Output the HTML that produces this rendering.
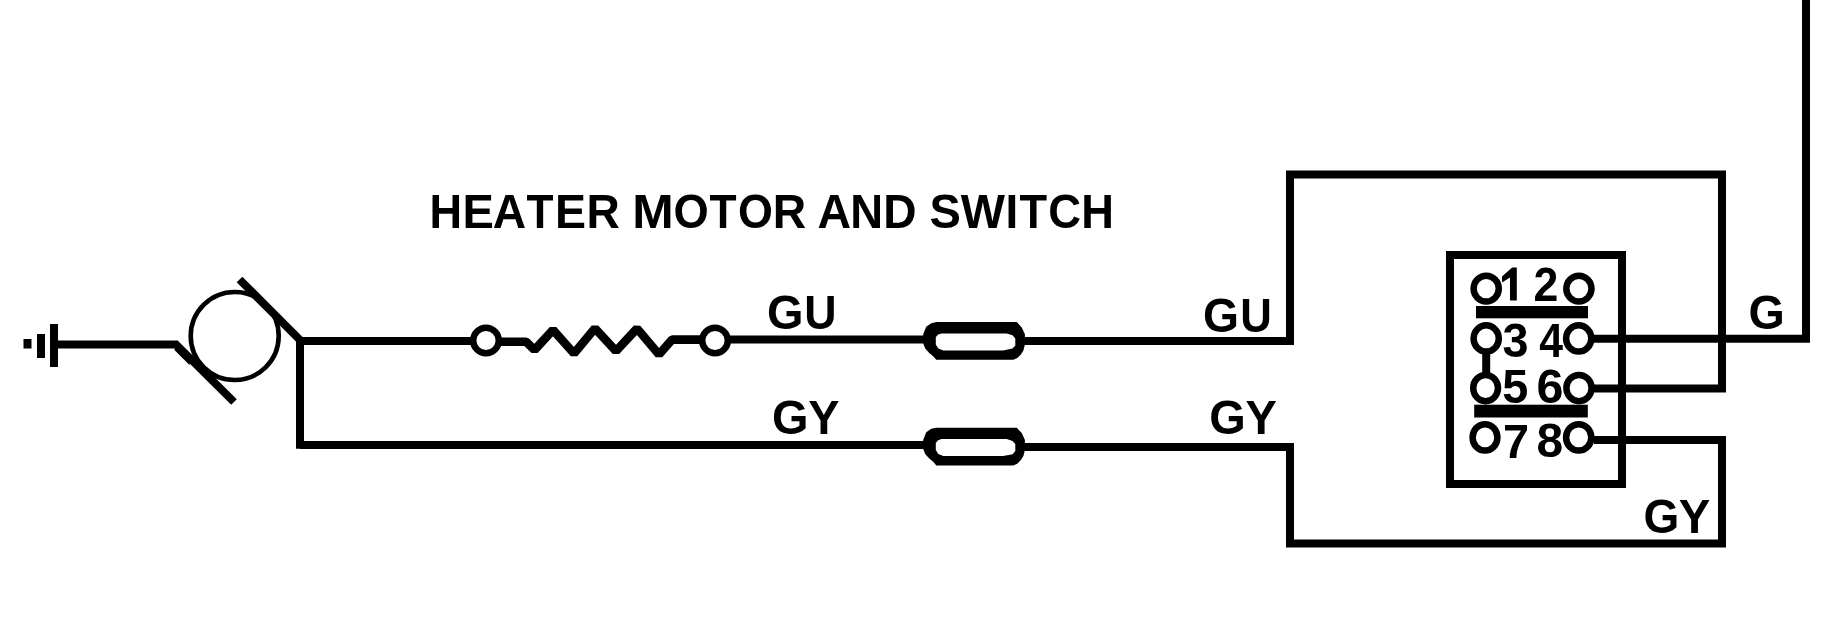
<!DOCTYPE html>
<html>
<head>
<meta charset="utf-8">
<style>
html,body{margin:0;padding:0;background:#fff;}
body{width:1830px;height:642px;overflow:hidden;}
svg{display:block;will-change:transform;}
text{font-family:"Liberation Sans",sans-serif;font-weight:bold;fill:#000;}
</style>
</head>
<body>
<svg width="1830" height="642" viewBox="0 0 1830 642">
<rect x="0" y="0" width="1830" height="642" fill="#fff"/>
<g fill="#000" stroke="none">
  <!-- ground symbol -->
  <rect x="23.5" y="339" width="8" height="9.5"/>
  <rect x="37" y="334" width="8" height="24"/>
  <rect x="50" y="324" width="8" height="43"/>
</g>
<g fill="none" stroke="#000" stroke-width="8" stroke-linecap="butt" stroke-linejoin="miter">
  <!-- ground wire to motor -->
  <polyline points="56,344.5 176,344.5 234,402"/>
  <line x1="177" y1="347" x2="192" y2="362"/>
  <!-- motor circle -->
  <circle cx="234.7" cy="336" r="44" stroke-width="4.6"/>
  <!-- top diagonal -->
  <line x1="239.5" y1="279.5" x2="302" y2="342"/>
  <!-- GU wire from motor to resistor -->
  <polyline points="300,448.7 300,341 472,341"/>
  <!-- resistor -->
  <polyline stroke-width="8.6" stroke-linejoin="bevel" points="499,341.7 526,341.7 534.5,350 553,329.8 574,353.5 595,328.3 616,351.2 637,328.5 659,354.5 672,339.6 700,339.6"/>
  <!-- GU wire to fuse -->
  <line x1="730" y1="339.5" x2="925" y2="339.5"/>
  <!-- GU wire from fuse to switch -->
  <polyline points="1024,341 1290,341 1290,174.5 1722,174.5 1722,388.5 1594,388.5"/>
  <!-- G wire -->
  <polyline points="1594,338.8 1806,338.8 1806,-5"/>
  <!-- GY wire -->
  <polyline points="300,445 925,445"/>
  <polyline points="1024,447 1290,447 1290,543.5 1722,543.5 1722,440 1594,440"/>
  <!-- switch box -->
  <rect x="1450" y="255" width="172" height="229"/>
  <!-- link 3-5 -->
  <line x1="1486.2" y1="354" x2="1486.2" y2="373"/>
</g>
<g fill="none" stroke="#000" stroke-width="6.5">
  <!-- terminal circles -->
  <circle cx="486" cy="340.5" r="12.8"/>
  <circle cx="715" cy="340.5" r="12.8"/>
  <ellipse cx="1486.2" cy="288.6" rx="12.6" ry="12.9"/>
  <ellipse cx="1578.9" cy="288.6" rx="12.6" ry="12.9"/>
  <ellipse cx="1486.2" cy="338.4" rx="12.6" ry="13.1"/>
  <ellipse cx="1578.7" cy="338.4" rx="12.6" ry="13.1"/>
  <ellipse cx="1485.6" cy="388.1" rx="12.4" ry="13.1"/>
  <ellipse cx="1579" cy="388.1" rx="12.6" ry="13.1"/>
  <ellipse cx="1485" cy="437.4" rx="12.4" ry="13.2"/>
  <ellipse cx="1578.7" cy="437.4" rx="12.6" ry="13.2"/>
</g>
<g fill="#000" fill-rule="evenodd">
  <!-- fuses -->
  <path d="M936.3,322.1 L1016.8,322.1 L1021.9,327.7 L1024.9,334.3 L1024.9,344.4 L1023.4,350.5 L1020.9,354.5 L1017.3,358.1 L1013.3,359.8 L936.3,359.8 L933.5,356.5 L929.2,353.0 L925.2,348.5 L923.2,343.4 L923.2,334.3 L926.2,326.7 L931.3,323.2 Z M941.4,333.5 L1006.7,333.5 L1012.5,335.3 L1015.3,338.5 L1015.3,345.5 L1012.5,348.6 L1003.1,350.5 L943.4,350.5 L938.3,348.5 L935.8,344.4 L935.8,337.3 L937.8,334.8 Z"/>
  <path d="M936.3,427.7 L1016.8,427.7 L1021.9,433.3 L1024.9,439.9 L1024.9,450.0 L1023.4,456.1 L1020.9,460.1 L1017.3,463.7 L1013.3,465.4 L936.3,465.4 L933.5,462.1 L929.2,458.6 L925.2,454.1 L923.2,449.0 L923.2,439.9 L926.2,432.3 L931.3,428.8 Z M941.4,439.1 L1006.7,439.1 L1012.5,440.9 L1015.3,444.1 L1015.3,451.1 L1012.5,454.2 L1003.1,456.1 L943.4,456.1 L938.3,454.1 L935.8,450.0 L935.8,442.9 L937.8,440.4 Z"/>
  <!-- switch bars -->
  <rect x="1476" y="306" width="112" height="12.3"/>
  <rect x="1474.2" y="404.7" width="113.6" height="12.8"/>
</g>
<g font-size="48">
<text transform="matrix(0.9391,0,0,0.9993,429.48,228.00)">H</text>
<text transform="matrix(0.9803,0,0,0.9993,462.45,228.00)">E</text>
<text transform="matrix(0.9626,0,0,0.9993,492.65,228.00)">A</text>
<text transform="matrix(0.9198,0,0,0.9993,526.50,228.00)">T</text>
<text transform="matrix(0.9692,0,0,0.9993,555.09,228.00)">E</text>
<text transform="matrix(0.9616,0,0,0.9993,586.41,228.00)">R</text>
<text transform="matrix(1.0369,0,0,0.9993,632.27,228.00)">M</text>
<text transform="matrix(0.9445,0,0,0.9993,673.44,228.00)">O</text>
<text transform="matrix(0.9234,0,0,0.9993,709.60,228.00)">T</text>
<text transform="matrix(0.9355,0,0,0.9993,737.96,228.00)">O</text>
<text transform="matrix(0.9649,0,0,0.9993,772.80,228.00)">R</text>
<text transform="matrix(0.9689,0,0,0.9993,817.54,228.00)">A</text>
<text transform="matrix(0.9462,0,0,0.9993,850.26,228.00)">N</text>
<text transform="matrix(0.9614,0,0,0.9993,883.21,228.00)">D</text>
<text transform="matrix(0.9806,0,0,0.9993,929.44,228.00)">S</text>
<text transform="matrix(0.9754,0,0,0.9993,960.85,228.00)">W</text>
<text transform="matrix(0.9546,0,0,0.9993,1005.53,228.00)">I</text>
<text transform="matrix(0.9411,0,0,0.9993,1019.59,228.00)">T</text>
<text transform="matrix(0.9464,0,0,0.9993,1048.14,228.00)">C</text>
<text transform="matrix(0.9426,0,0,0.9993,1081.37,228.00)">H</text>
<text transform="matrix(0.9787,0,0,0.9993,767.07,328.70)">G</text>
<text transform="matrix(0.9324,0,0,0.9993,804.21,328.70)">U</text>
<text transform="matrix(0.9648,0,0,0.9993,1202.95,331.70)">G</text>
<text transform="matrix(0.9116,0,0,0.9993,1240.37,331.70)">U</text>
<text transform="matrix(0.9787,0,0,0.9993,772.07,434.40)">G</text>
<text transform="matrix(0.9763,0,0,0.9993,808.30,434.40)">Y</text>
<text transform="matrix(0.9787,0,0,0.9993,1209.17,434.40)">G</text>
<text transform="matrix(0.9796,0,0,0.9993,1245.40,434.40)">Y</text>
<text transform="matrix(0.9725,0,0,0.9993,1748.59,328.70)">G</text>
<text transform="matrix(0.9602,0,0,0.9993,1643.51,533.20)">G</text>
<text transform="matrix(0.9861,0,0,0.9993,1678.69,533.20)">Y</text>
<text transform="matrix(0.9304,0,0,0.9993,1533.45,300.60)">2</text>
<text transform="matrix(0.9766,0,0,0.9993,1502.52,356.60)">3</text>
<text transform="matrix(0.8907,0,0,0.9993,1539.25,356.90)">4</text>
<text transform="matrix(0.9756,0,0,0.9993,1502.16,402.90)">5</text>
<text transform="matrix(1.0085,0,0,0.9993,1536.43,402.60)">6</text>
<text transform="matrix(0.9768,0,0,0.9993,1502.99,457.70)">7</text>
<text transform="matrix(1.0002,0,0,0.9993,1536.38,457.40)">8</text>
</g>
<polygon points="1512.1,267.6 1516.8,267.6 1516.8,300.6 1510,300.6 1510,277.6 1502,282.6 1502,276.4" fill="#000"/>
</svg>
</body>
</html>
